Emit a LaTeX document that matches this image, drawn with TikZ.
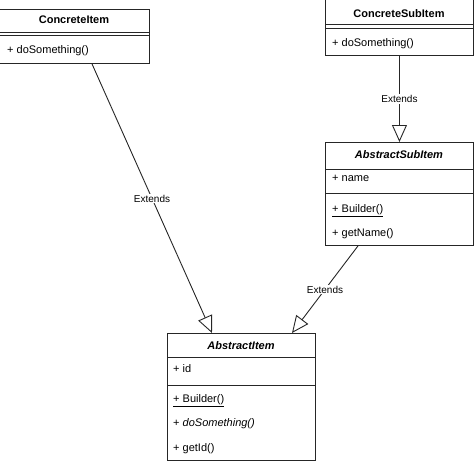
\documentclass[tikz,border=0pt]{standalone}
\usepackage{fontspec}
\setmainfont{Liberation Sans}
\usetikzlibrary{
    arrows.meta,
    positioning,
    calc
}

\begin{document}
\begin{tikzpicture}[x=1pt, y=-1pt,
        classbox/.style={draw=black!85, line width=0.9pt, fill=white, inner sep=0pt,
                         anchor=north west, minimum width=148pt},
        title/.style={font=\fontsize{11}{13}\selectfont\bfseries, inner sep=0pt},
        member/.style={anchor=west, font=\fontsize{11}{13}\selectfont, inner sep=0pt},
        sep/.style={draw=black!85, line width=0.9pt},
        ext/.style={-{Triangle[open, fill=white, length=17pt, width=15pt]}, line width=0.9pt, draw=black!85},
        lbl/.style={fill=white, font=\fontsize{10}{12}\selectfont, inner sep=1pt},
    ]
        \useasboundingbox (0,0) rectangle (474,464);

        % ConcreteItem
        \node[classbox, minimum width=150pt, minimum height=54pt] (concrete) at (-1,9) {};
        \node[title] (concrete-t) at (74,20) {ConcreteItem};
        \draw[sep] ([yshift=-23pt]concrete.north west) -- ([yshift=-23pt]concrete.north east);
        \draw[sep] ([yshift=-26pt]concrete.north west) -- ([yshift=-26pt]concrete.north east);
        \node[member] (concrete-m1) at (7,51) {+ doSomething()};

        % ConcreteSubItem
        \node[classbox, minimum height=56pt] (concreteSub) at (325,-1) {};
        \node[title] (concreteSub-t) at (399,14) {ConcreteSubItem};
        \draw[sep] ([yshift=-25pt]concreteSub.north west) -- ([yshift=-25pt]concreteSub.north east);
        \draw[sep] ([yshift=-29pt]concreteSub.north west) -- ([yshift=-29pt]concreteSub.north east);
        \node[member] (concreteSub-m1) at (332,44) {+ doSomething()};

        % AbstractSubItem
        \node[classbox, minimum height=103pt] (abstractSub) at (325,142) {};
        \node[title] (abstractSub-t) at (399,155) {\itshape AbstractSubItem};
        \draw[sep] ([yshift=-27pt]abstractSub.north west) -- ([yshift=-27pt]abstractSub.north east);
        \node[member] (abstractSub-a1) at (332,178) {+ name};
        \draw[sep] ([yshift=-51pt]abstractSub.north west) -- ([yshift=-51pt]abstractSub.north east);
        \node[member] (abstractSub-m1) at (332,211) {\underline{+ Builder()}};
        \node[member] (abstractSub-m2) at (332,234) {+ getName()};

        % AbstractItem
        \node[classbox, minimum height=127pt] (abstract) at (167,333) {};
        \node[title] (abstract-t) at (241,346) {\itshape AbstractItem};
        \draw[sep] ([yshift=-24pt]abstract.north west) -- ([yshift=-24pt]abstract.north east);
        \node[member] (abstract-a1) at (173,369) {+ id};
        \draw[sep] ([yshift=-52pt]abstract.north west) -- ([yshift=-52pt]abstract.north east);
        \node[member] (abstract-m1) at (173,401) {\underline{+ Builder()}};
        \node[member] (abstract-m2) at (173,424) {+ \itshape doSomething()};
        \node[member] (abstract-m3) at (173,449) {+ getId()};

        % Inheritance
        \draw[ext] ([xshift=93pt]concrete.south west) -- node[lbl] (ext1) {Extends} ([xshift=45pt]abstract.north west);
        \draw[ext] (concreteSub.south) -- node[lbl] (ext2) {Extends} (abstractSub.north);
        \draw[ext] ([xshift=33pt]abstractSub.south west) -- node[lbl] (ext3) {Extends} ([xshift=125pt]abstract.north west);
    \end{tikzpicture}
\end{document}
